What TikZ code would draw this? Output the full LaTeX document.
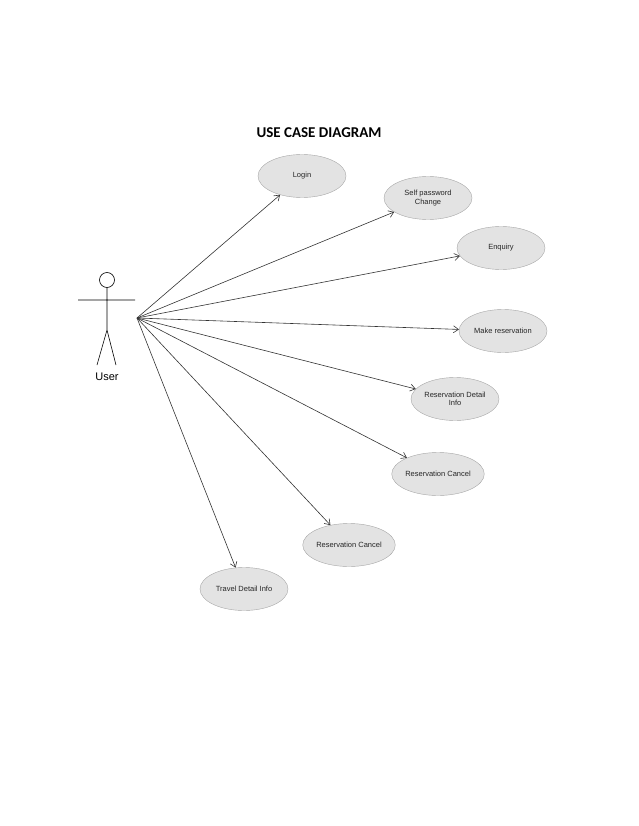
\documentclass[tikz,border=0pt]{standalone}
\usepackage{fontspec}
\setmainfont{Liberation Sans}
\newfontfamily\titlefont{Carlito}
\usetikzlibrary{shapes.geometric,arrows.meta}
\begin{document}
\begin{tikzpicture}[x=1pt,y=-1pt,
  uc/.style={ellipse,draw=gray!70,fill=gray!22,minimum width=88pt,minimum height=43pt,inner sep=0pt,align=center,font=\fontsize{7.5}{8.5}\selectfont,text=black!85},
  assoc/.style={draw=black!80,line width=0.6pt,-{Straight Barb[length=5pt,width=7pt]}}]
\useasboundingbox (0,0) rectangle (638,826);
\node[font=\titlefont\bfseries\fontsize{15}{17}\selectfont] (title) at (319,133) {USE CASE DIAGRAM};
% actor
\draw[line width=0.6pt] (107,280) circle (7.5);
\draw[line width=0.6pt] (107,287.5) -- (107,330) (78,300) -- (135,300) (107,330) -- (97,365) (107,330) -- (116,365);
\node[font=\fontsize{11}{13}\selectfont] (user) at (107,377) {User};
\coordinate (hub) at (137,318);
\node[uc] (login) at (302,176) {Login};
\node[uc] (pwd) at (428,198) {Self password\\Change};
\node[uc] (enq) at (501,248) {Enquiry};
\node[uc] (make) at (503,331) {Make reservation};
\node[uc] (detail) at (455,399) {Reservation Detail\\Info};
\node[uc] (cancel1) at (438,474) {Reservation Cancel};
\node[uc] (cancel2) at (349,545) {Reservation Cancel};
\node[uc] (travel) at (244,589) {Travel Detail Info};
\foreach \t in {login,pwd,enq,make,detail,cancel1,cancel2,travel}
  \draw[assoc] (hub) -- (\t);
\end{tikzpicture}
\end{document}
